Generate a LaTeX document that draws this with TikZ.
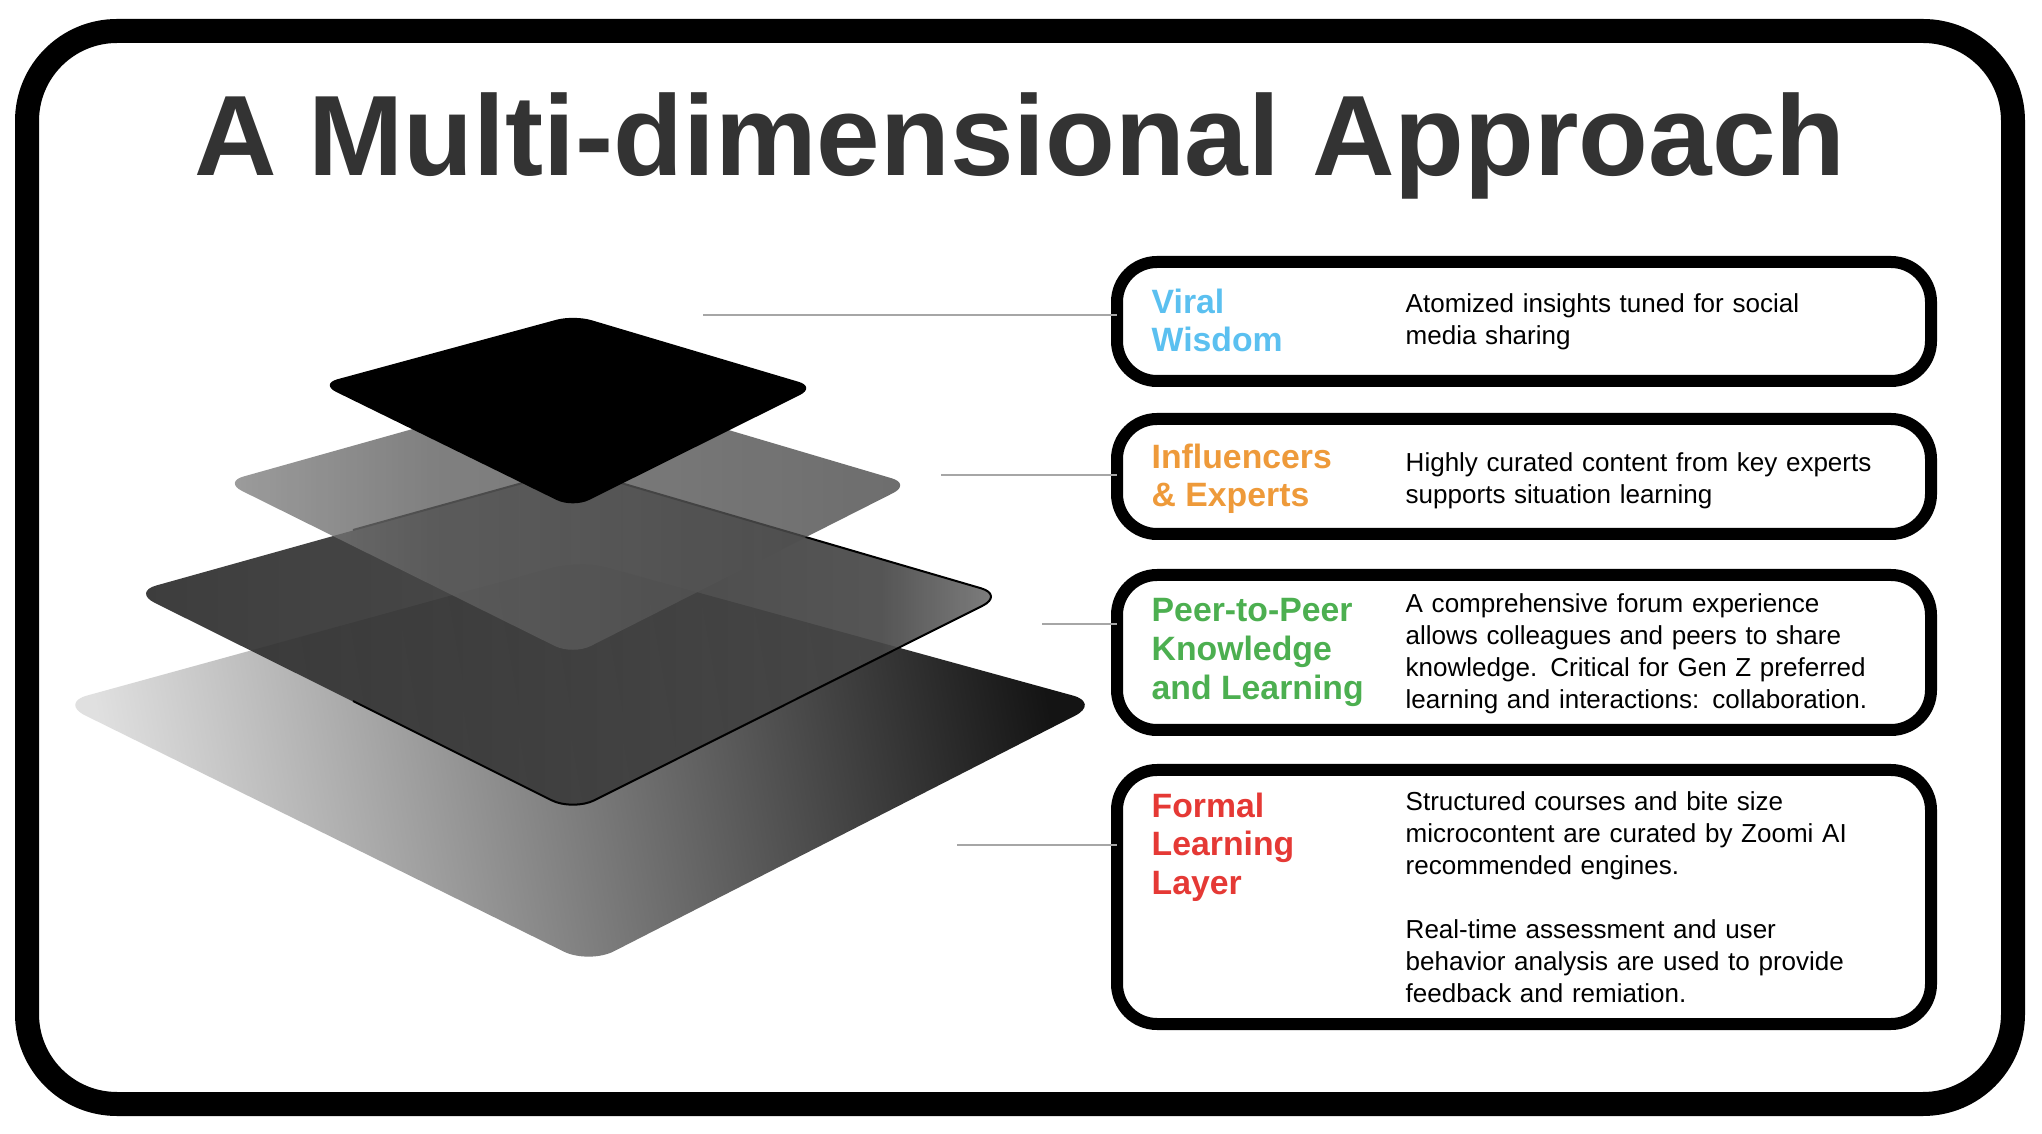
\documentclass[tikz,border=0pt]{standalone}
\usepackage{fontspec}
\setmainfont{Liberation Sans}
\usetikzlibrary{positioning}
\definecolor{viral}{HTML}{5BC0F0}
\definecolor{influ}{HTML}{EE9A3A}
\definecolor{peer}{HTML}{4CAF50}
\definecolor{formal}{HTML}{E53935}
\definecolor{ink}{HTML}{333333}
\pgfdeclarehorizontalshading{peershade}{100bp}{color(0bp)=(black!88); color(45bp)=(black!78); color(68bp)=(black!72); color(82bp)=(black!35); color(100bp)=(white)}
\pgfdeclarehorizontalshading{influshade}{100bp}{color(0bp)=(black!25); color(40bp)=(black!62); color(100bp)=(black!78)}
\newlength{\pxu}\setlength{\pxu}{0.01cm}
\tikzset{
  layerbox/.style={draw=black, line width=12\pxu, rounded corners=40\pxu, inner sep=0pt, outer sep=0pt, anchor=north west},
  head/.style={anchor=north west, inner sep=0pt, align=left, font=\fontsize{9.6}{11}\selectfont\bfseries},
  desc/.style={anchor=north west, inner sep=0pt, align=left, text width=5.2cm, font=\fontsize{7.4}{9.1}\selectfont},
  leader/.style={draw=gray!70, line width=2\pxu},
}
\begin{document}
\begin{tikzpicture}[x=0.01cm, y=-0.01cm]
    \useasboundingbox (0,0) rectangle (2042,1134);
    \fill[white] (0,0) rectangle (2042,1134);
    \draw[line width=24\pxu, rounded corners=90\pxu] (27,31) rectangle (2013,1104);

    %title
    \node (title) at (1020,146) {\fontsize{32.5}{38}\selectfont\bfseries\color{ink}A Multi-dimensional Approach};

    %layers, bottom to top
    \shade[left color=black!12, right color=black!92, shading angle=100, rounded corners=28\pxu]
        (60,703) -- (580,560) -- (1100,703) -- (589,964) -- cycle;
    \shade[shading=peershade, fill opacity=0.92, rounded corners=24\pxu]
        (133,592) -- (573,469) -- (1004,595) -- (573,811) -- cycle;
    \draw[line width=2\pxu, rounded corners=24\pxu] (353,701) -- (573,811) -- (1004,595) -- (573,469) -- (353,530);
    \shade[shading=influshade, fill opacity=0.8, rounded corners=20\pxu]
        (224,482) -- (573,384) -- (911,484) -- (573,655) -- cycle;
    \fill[black, rounded corners=18\pxu] (320,384) -- (574,315) -- (816,387) -- (573,508) -- cycle;

    %leader starts
    \coordinate (c1) at (703,315);
    \coordinate (c2) at (941,475);
    \coordinate (c3) at (1042,624);
    \coordinate (c4) at (957,845);

    %boxes
    \node[layerbox, minimum width=814\pxu, minimum height=119\pxu] (viralbox) at (1117,262) {};
    \node[layerbox, minimum width=814\pxu, minimum height=115\pxu] (influbox) at (1117,419) {};
    \node[layerbox, minimum width=814\pxu, minimum height=155\pxu] (peerbox) at (1117,575) {};
    \node[layerbox, minimum width=814\pxu, minimum height=254\pxu] (formalbox) at (1117,770) {};

    \foreach \i/\b in {1/viralbox,2/influbox,3/peerbox,4/formalbox}
    {
        \draw[leader] (c\i) -- (c\i -| \b.west);
    }

    %labels
    \node[head, text=viral] (viral) at (1151,288) {Viral\\Wisdom};
    \node[head, text=influ] (influ) at (1151,443) {Influencers\\\& Experts};
    \node[head, text=peer] (peer) at (1151,598) {Peer-to-Peer\\Knowledge\\and Learning};
    \node[head, text=formal] (formal) at (1151,792) {Formal\\Learning\\Layer};

    \node[desc] (viraltxt) at (1405,293) {Atomized insights tuned for social\\media sharing};
    \node[desc] (influtxt) at (1405,452) {Highly curated content from key experts\\supports situation learning};
    \node[desc] (peertxt) at (1405,593) {A comprehensive forum experience\\allows colleagues and peers to share\\knowledge. Critical for Gen Z preferred\\learning and interactions: collaboration.};
    \node[desc] (formaltxt) at (1405,791) {Structured courses and bite size\\microcontent are curated by Zoomi AI\\recommended engines.\\[9.1pt]Real-time assessment and user\\behavior analysis are used to provide\\feedback and remiation.};
\end{tikzpicture}
\end{document}
